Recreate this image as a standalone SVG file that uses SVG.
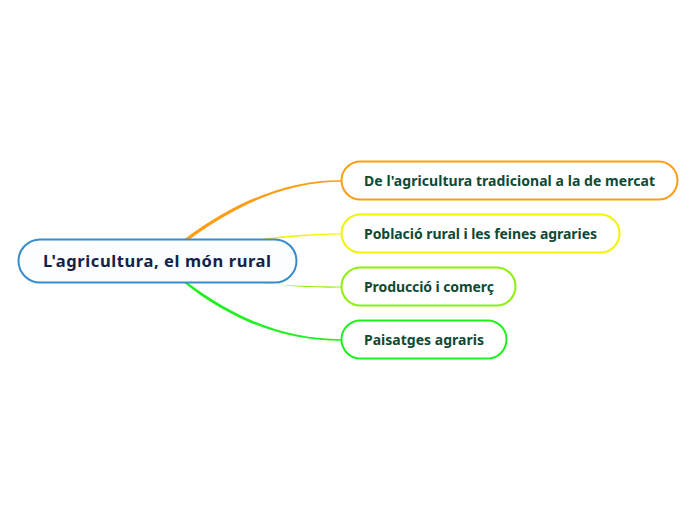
<svg xmlns="http://www.w3.org/2000/svg" width="696" height="520" viewBox="0 0 696 520">
<style>
.c{font-family:"Noto Sans","Open Sans",sans-serif;font-weight:bold;font-size:14px;fill:#0e4a36}
.r{fill:#fff;stroke-width:2}
</style>
<rect width="696" height="520" fill="#fff"/>
<g id="connectors">
<path d="M184,239.5 C238,199 290,180 341,180.2 L341,181.8 C290,182 240,202 188,240.5 Z" fill="#ff9d14"/>
<path d="M262,238.5 C290,235 315,233.5 341,233.4 L341,234.6 C315,235 290,237 266,239.5 Z" fill="#f2f205"/>
<path d="M262,282.5 C290,287 315,288 341,287.6 L341,286.4 C315,286.5 290,286 266,283.5 Z" fill="#8ef00a"/>
<path d="M183,282 C237,325 290,340.8 341,340.8 L341,339.2 C290,339 240,322 187,282 Z" fill="#1ff01f"/>
</g>
<g id="root">
<rect x="18.5" y="239.5" width="278" height="43" rx="21.5" fill="#fbfdfe" stroke="#3a8ccc" stroke-width="2"/>
<text x="43" y="267" textLength="228" lengthAdjust="spacing" font-family="Noto Sans,Open Sans,sans-serif" font-weight="bold" font-size="16.5" fill="#12224a">L'agricultura, el món rural</text>
</g>
<g id="n1">
<rect class="r" x="341.5" y="161.5" width="336" height="38" rx="19" stroke="#ff9d14"/>
<text class="c" x="364" y="186" textLength="291" lengthAdjust="spacing">De l'agricultura tradicional a la de mercat</text>
</g>
<g id="n2">
<rect class="r" x="341.5" y="214.5" width="278" height="38" rx="19" stroke="#f2f205"/>
<text class="c" x="364" y="239" textLength="233" lengthAdjust="spacing">Població rural i les feines agraries</text>
</g>
<g id="n3">
<rect class="r" x="341.5" y="267.5" width="174" height="38" rx="19" stroke="#8ef00a"/>
<text class="c" x="364" y="292" textLength="130" lengthAdjust="spacing">Producció i comerç</text>
</g>
<g id="n4">
<rect class="r" x="341.5" y="320.5" width="165" height="38" rx="19" stroke="#1ff01f"/>
<text class="c" x="364" y="345" textLength="120" lengthAdjust="spacing">Paisatges agraris</text>
</g>
</svg>
